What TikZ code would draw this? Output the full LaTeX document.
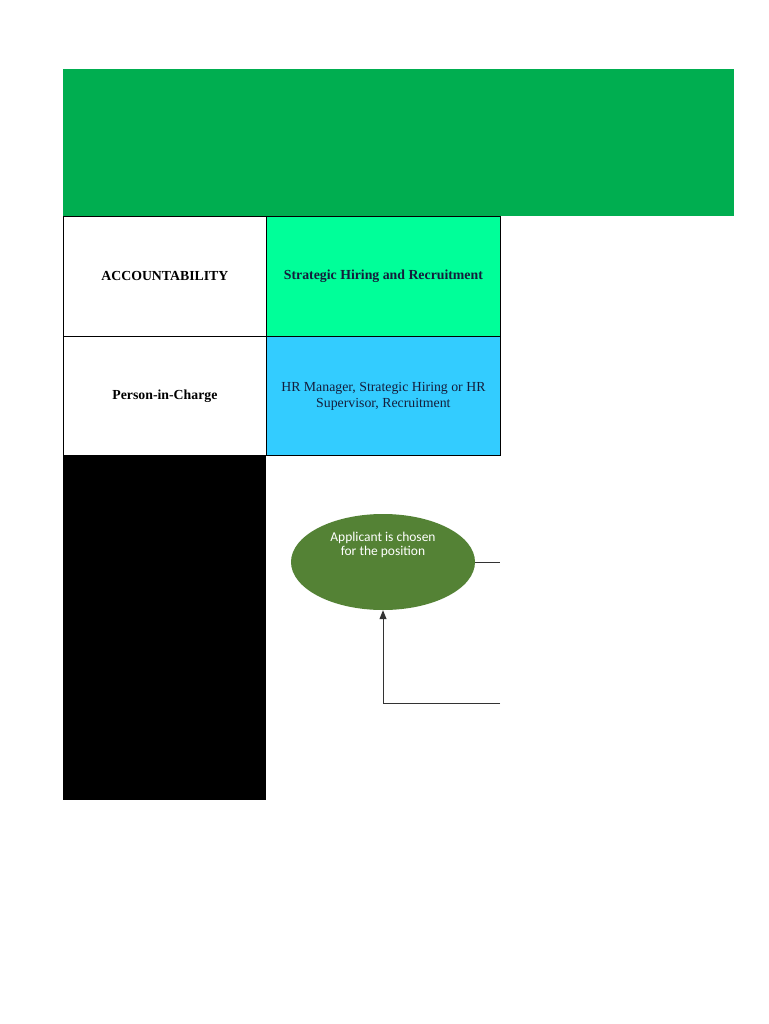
\documentclass[tikz,border=0pt]{standalone}
\usepackage{fontspec}
\setmainfont{Liberation Serif}
\newfontfamily\calib{Carlito}
\usetikzlibrary{shapes.geometric,arrows.meta}
\definecolor{topgreen}{RGB}{0,174,80}
\definecolor{mint}{RGB}{0,255,153}
\definecolor{sky}{RGB}{51,204,255}
\definecolor{olive}{RGB}{84,130,53}
\definecolor{navytext}{RGB}{20,30,60}
\tikzset{
  cell/.style={draw=black, line width=0.8pt, minimum width=#1, minimum height=120pt, inner sep=2pt, align=center, font=\fontsize{13.8}{16}\selectfont, anchor=north west},
  cell/.default=203pt,
  conn/.style={draw=black!80, line width=1pt},
}
\begin{document}
\begin{tikzpicture}[x=1pt,y=-1pt]
\useasboundingbox (0,0) rectangle (768,1024);
\fill[white] (0,0) rectangle (768,1024);
\fill[topgreen] (63,69) rectangle (734,216);
\node[cell=203pt, fill=white] (acc) at (63,216) {\textbf{ACCOUNTABILITY}};
\node[cell=234pt, fill=mint, text=navytext] (shr) at (266,216) {\textbf{Strategic Hiring and Recruitment}};
\node[cell=203pt, fill=white, minimum height=119pt] (pic) at (63,336) {\textbf{Person-in-Charge}};
\node[cell=234pt, fill=sky, text=navytext, minimum height=119pt] (hrm) at (266,336) {HR Manager, Strategic Hiring or HR\\ Supervisor, Recruitment};
\fill[black] (63,455) rectangle (266,800);
\node[ellipse, fill=olive, minimum width=184pt, minimum height=96pt, inner sep=0pt] (app) at (383,562) {};
\node[text=white, align=center, font=\calib\fontsize{13.5}{13.5}\selectfont, inner sep=0pt] (apptxt) at (383,545) {Applicant is chosen\\for the position};
\coordinate (r1) at (500,562);
\coordinate (r2) at (500,703);
\draw[conn] (app.east) -- (r1);
\draw[conn, -{Triangle[length=9pt,width=7pt]}] (r2) -- (app.south |- r2) -- (app.south);
\end{tikzpicture}
\end{document}
